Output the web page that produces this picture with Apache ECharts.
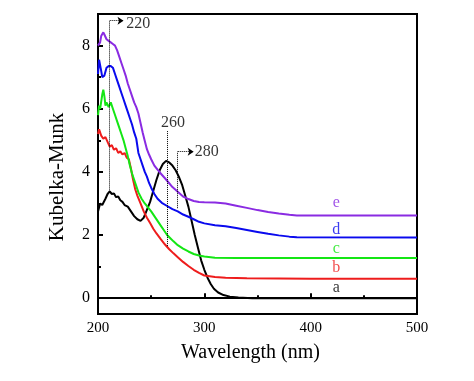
<!DOCTYPE html>
<html>
<head>
<meta charset="utf-8">
<script src="https://cdn.jsdelivr.net/npm/echarts@6/dist/echarts.min.js"></script>
<style>html,body{margin:0;padding:0;background:#fff;}#chart{width:474px;height:381px;}</style>
</head>
<body>
<div id="chart"></div>
<script>
// ---- data ----
const curveA = [[200,2.75],[202,3.0],[204,2.95],[207,3.15],[209,3.3],[211,3.38],[213,3.3],[215,3.32],[217,3.2],[219,3.22],[221,3.1],[223,3.05],[225,2.95],[228,2.9],[231,2.75],[234,2.6],[237,2.5],[240,2.45],[243,2.55],[246,2.8],[249,3.05],[252,3.4],[255,3.75],[258,4.05],[261,4.25],[264,4.35],[267,4.3],[270,4.2],[273,4.05],[276,3.85],[279,3.6],[282,3.25],[285,2.9],[288,2.45],[291,2.0],[294,1.6],[297,1.2],[300,0.9],[303,0.65],[306,0.45],[309,0.3],[313,0.18],[318,0.1],[324,0.05],[332,0.02],[345,0],[500,0]];
const curveB = [[200,5.2],[201,5.35],[203,5.15],[205,5.05],[207,5.1],[209,4.95],[211,4.8],[213,4.85],[215,4.7],[217,4.75],[219,4.6],[221,4.65],[223,4.55],[225,4.6],[227,4.45],[229,4.4],[231,4.1],[233,3.75],[235,3.45],[237,3.25],[240,3.0],[243,2.75],[246,2.55],[249,2.38],[252,2.2],[255,2.05],[259,1.87],[263,1.7],[267,1.55],[271,1.42],[275,1.3],[280,1.15],[285,1.02],[290,0.9],[295,0.8],[300,0.72],[310,0.67],[320,0.65],[340,0.63],[400,0.62],[500,0.62]];
const curveC = [[200,5.8],[201,6.1],[202,6.0],[204,6.45],[205,6.6],[206,6.4],[207,6.1],[208,6.2],[210,6.05],[212,6.2],[214,6.0],[216,5.8],[218,5.6],[220,5.4],[222,5.2],[224,5.0],[226,4.75],[228,4.5],[230,4.2],[232,3.95],[234,3.75],[236,3.55],[238,3.35],[241,3.15],[244,3.0],[247,2.88],[250,2.75],[253,2.6],[256,2.45],[259,2.3],[262,2.15],[265,2.0],[268,1.9],[271,1.8],[275,1.68],[280,1.57],[285,1.48],[290,1.4],[295,1.35],[300,1.32],[310,1.28],[330,1.27],[500,1.27]];
const curveD = [[200,7.1],[201,7.55],[202,7.6],[203,7.2],[204,7.0],[206,7.05],[208,7.3],[210,7.35],[212,7.35],[214,7.3],[216,7.1],[218,6.9],[220,6.7],[222,6.5],[224,6.3],[226,6.1],[228,5.9],[230,5.7],[232,5.5],[234,5.25],[236,5.05],[238,4.6],[240,4.4],[242,4.2],[244,4.0],[246,3.85],[248,3.65],[250,3.5],[253,3.3],[256,3.15],[260,3.02],[265,2.92],[270,2.82],[275,2.75],[280,2.65],[285,2.58],[290,2.5],[295,2.42],[300,2.37],[310,2.31],[320,2.28],[330,2.22],[340,2.16],[350,2.1],[360,2.04],[370,1.99],[380,1.95],[387,1.93],[500,1.92]];
const curveE = [[200,8.0],[201,7.95],[202,8.1],[203,8.3],[204,8.35],[205,8.42],[206,8.35],[207,8.3],[208,8.2],[210,8.15],[212,8.1],[214,8.05],[216,8.0],[218,7.85],[220,7.65],[222,7.45],[224,7.25],[226,7.05],[228,6.8],[230,6.6],[232,6.4],[234,6.2],[236,6.05],[238,5.85],[240,5.55],[242,5.25],[244,4.98],[246,4.72],[248,4.55],[250,4.4],[253,4.2],[256,4.07],[259,3.95],[265,3.72],[270,3.52],[275,3.37],[280,3.22],[285,3.14],[290,3.08],[295,3.05],[300,3.04],[310,3.03],[320,3.0],[330,2.93],[340,2.86],[350,2.79],[360,2.73],[370,2.68],[380,2.64],[387,2.62],[500,2.62]];

const curveNames = ['a','b','c','d','e'];
const curveLabelPos = [[424,0.34],[424,0.97],[424,1.57],[424,2.18],[424,3.03]];

// annotation guide segments (wavelength, value)
const guideLines = [
  [[211,3.35],[211,8.79]],
  [[265,1.65],[265,5.3]],
  [[275,2.85],[275,4.64]]
];
const guideArrows = [
  [[211,8.79],[224,8.79]],
  [[275,4.64],[290,4.64]]
];
const peakTexts = ['220','260','280'];
const peakTextPos = [[226.5,8.68],[270.5,5.55],[291,4.64]];

const xTicks = [200,300,400,500];
const yTicks = [0,2,4,6,8];
const yMinorTicks = [1,3,5,7];

// ---- chart ----
const colors = ['#000000','#ee1c1c','#14e614','#0a0aee','#8a2be2'];
const curves = [curveA, curveB, curveC, curveD, curveE];
const serif = 'Liberation Serif';

const series = [];
curves.forEach((c,i)=>{
  series.push({
    type:'line', name:curveNames[i], data:c, showSymbol:false, symbol:'none',
    lineStyle:{color:colors[i], width:2}, itemStyle:{color:colors[i]},
    z:3, silent:true, animation:false
  });
});
series.push({
  type:'lines', coordinateSystem:'cartesian2d', silent:true, animation:false,
  data: guideLines.map(s=>({coords:s})),
  lineStyle:{color:'#000', width:1, type:'dotted', opacity:1},
  symbol:['none','none'], z:4
});
series.push({
  type:'lines', coordinateSystem:'cartesian2d', silent:true, animation:false,
  data: guideArrows.map(s=>({coords:s})),
  lineStyle:{color:'#000', width:1, type:'dotted', opacity:1},
  symbol:['none','arrow'], symbolSize:6, z:4
});
series.push({
  type:'scatter', silent:true, animation:false, symbolSize:0,
  data: peakTextPos.map((p,i)=>({value:p, name:peakTexts[i],
    label:{align: i===1 ? 'center':'left'}})),
  label:{show:true, position:'inside', formatter:p=>p.name,
    fontFamily:serif, fontSize:16, color:'#000', verticalAlign:'middle'},
  z:5
});
series.push({
  type:'scatter', silent:true, animation:false, symbolSize:0,
  data: curveLabelPos.map((p,i)=>({value:p, name:curveNames[i],
    label:{color:colors[i]}})),
  label:{show:true, position:'inside', formatter:p=>p.name,
    fontFamily:serif, fontSize:16, align:'center', verticalAlign:'middle'},
  z:5
});

const chart = echarts.init(document.getElementById('chart'), null, {renderer:'canvas'});
chart.setOption({
  animation:false,
  backgroundColor:'#fff',
  grid:{left:98, right:57, top:14, bottom:67, show:true, borderColor:'#000', borderWidth:2, backgroundColor:'transparent'},
  xAxis:{
    type:'value', min:200, max:500, interval:100,
    name:'Wavelength (nm)', nameLocation:'middle', nameGap:29,
    nameTextStyle:{fontFamily:serif, fontSize:20, color:'#000', padding:[0,14,0,0]},
    axisLine:{lineStyle:{color:'#000', width:2}},
    axisTick:{inside:true, length:5, lineStyle:{color:'#000', width:2}},
    minorTick:{show:true, splitNumber:2, length:3, lineStyle:{color:'#000', width:2}},
    axisLabel:{fontFamily:serif, fontSize:15, color:'#000', margin:7,
      customValues:xTicks},
    splitLine:{show:false}
  },
  yAxis:[{
    type:'value', min:-0.5, max:9,
    name:'Kubelka-Munk', nameLocation:'middle', nameGap:30,
    nameTextStyle:{fontFamily:serif, fontSize:21, color:'#000', padding:[0,26,0,0]},
    axisLine:{lineStyle:{color:'#000', width:2}},
    axisTick:{inside:true, length:5, lineStyle:{color:'#000', width:2}, customValues:yTicks},
    axisLabel:{fontFamily:serif, fontSize:16, color:'#000', margin:8, customValues:yTicks},
    splitLine:{show:false}
  },{
    type:'value', min:-0.5, max:9, position:'left',
    axisLine:{show:false},
    axisTick:{show:true, inside:true, length:3, lineStyle:{color:'#000', width:2}, customValues:yMinorTicks},
    axisLabel:{show:false},
    splitLine:{show:false}
  }],
  series: series
});
</script>
</body>
</html>
